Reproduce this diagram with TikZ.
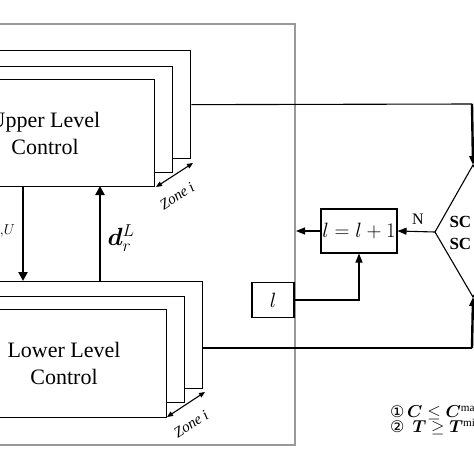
\documentclass[tikz,border=0pt]{standalone}
\usepackage{amsmath,bm}
\usepackage{fontspec}
\setmainfont{Liberation Serif}
\newfontfamily\symfont{DejaVu Sans}
\usetikzlibrary{arrows.meta}
\tikzset{
  stackbox/.style={draw, line width=1.3pt, fill=white, anchor=north west, inner sep=0pt},
  plainbox/.style={draw, line width=1.1pt, fill=white, inner sep=0pt},
  thin/.style={line width=1.1pt},
  thick2/.style={line width=2.4pt},
  tipA/.style={-{Triangle[length=9pt,width=7pt]}},
  tipB/.style={-{Triangle[length=9pt,width=9pt]}},
  dbl/.style={line width=1.1pt,{Triangle[length=6pt,width=5pt]}-{Triangle[length=6pt,width=5pt]}},
  frame/.style={draw=black!40, line width=1.3pt},
  zonelbl/.style={rotate=33, font=\itshape\fontsize{15}{17}\selectfont, inner sep=0pt},
}
\begin{document}
\begin{tikzpicture}[x=1pt,y=-1pt]
\useasboundingbox (0,0) rectangle (474,474);
\fill[white] (0,0) rectangle (474,474);
% gray frame
\draw[frame] (-10,24) -- (295,24) -- (295,445) -- (-10,445);
% upper stack
\node[stackbox, minimum width=210pt, minimum height=108pt] (u3) at (-20,50) {};
\node[stackbox, minimum width=192pt, minimum height=106pt] (u2) at (-20,66) {};
\node[stackbox, minimum width=174pt, minimum height=107pt] (u1) at (-20,79) {};
\node[align=center, font=\fontsize{22}{27}\selectfont] (ut) at (45,133) {Upper Level\\Control};
% lower stack
\node[stackbox, minimum width=222pt, minimum height=107pt] (l3) at (-20,281) {};
\node[stackbox, minimum width=204pt, minimum height=106pt] (l2) at (-20,296) {};
\node[stackbox, minimum width=186pt, minimum height=108pt] (l1) at (-20,309) {};
\node[align=center, font=\fontsize{22}{27}\selectfont] (lt) at (64,363) {Lower Level\\Control};
% vertical arrows between levels
\coordinate (dA) at (23,186);
\coordinate (dB) at (23,281);
\coordinate (uA) at (100,281);
\coordinate (uB) at (100,186);
\draw[thick2, tipB] (dA) -- (dB);
\draw[thick2, tipB] (uA) -- (uB);
\node[anchor=east, font=\fontsize{22}{26}\selectfont] (lblU) at (19,236) {$\bm{d}_r^{e,U}$};
\node[anchor=west, font=\fontsize{24}{28}\selectfont] (lblL) at (104,238) {$\bm{d}_r^{L}$};
% zone arrows
\coordinate (zu1) at (156,187);
\coordinate (zu2) at (193,163);
\draw[dbl] (zu1) -- (zu2);
\node[zonelbl] (zlu) at (177,196) {Zone i};
\coordinate (zl1) at (167,417);
\coordinate (zl2) at (205,392);
\draw[dbl] (zl1) -- (zl2);
\node[zonelbl] (zll) at (191,424) {Zone i};
% diamond
\coordinate (dtop) at (473,165);
\coordinate (dleft) at (435,232);
\coordinate (dbot) at (473,297);
\coordinate (dright) at (511,231);
\draw[thin] (dtop) -- (dleft) -- (dbot) -- (dright) -- cycle;
\node[font=\bfseries\fontsize{17}{20}\selectfont, anchor=west] (sc1) at (446,222) {SC};
\node[font=\bfseries\fontsize{17}{20}\selectfont, anchor=west] (sc2) at (446,244) {SC};
% connectors to diamond
\coordinate (cu) at (472,104);
\draw[thin] (u3.east) -- (cu);
\draw[thick2, tipA] (cu) -- (dtop);
\coordinate (lo) at (202,348);
\coordinate (cl) at (472,348);
\draw[thin] (lo) -- (cl);
\draw[thick2, tipA] (cl) -- (dbot);
% l = l + 1
\node[plainbox, minimum width=76pt, minimum height=44pt, font=\fontsize{20}{24}\selectfont] (inc) at (359,231) {$l=l+1$};
\draw[thin, tipA] (dleft) -- (inc.east);
\node[font=\fontsize{16}{18}\selectfont] (N) at (418,219) {N};
\coordinate (out) at (296,231);
\draw[thin, tipA] (inc.west) -- (out);
\node[plainbox, minimum width=42pt, minimum height=35pt, font=\fontsize{20}{24}\selectfont] (lb) at (273,300) {$l$};
\draw[thin, tipA] (lb.east) -| (inc.south);
% legend
\node[anchor=west, font=\fontsize{16}{18}\selectfont, inner sep=0pt] (leg1) at (390,413) {{\symfont ①}\,$\bm{C}\le\bm{C}^{\max}$};
\node[anchor=west, font=\fontsize{16}{18}\selectfont, inner sep=0pt] (leg2) at (390,427) {{\symfont ②}\ \ $\bm{T}\ge\bm{T}^{\min}$};
\end{tikzpicture}
\end{document}
